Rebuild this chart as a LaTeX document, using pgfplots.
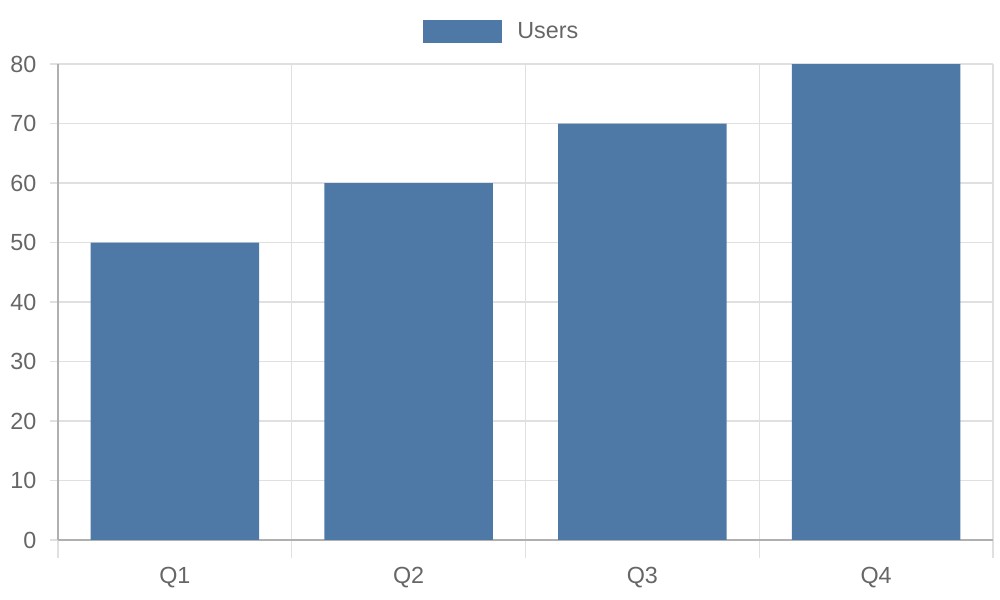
\documentclass[border=0pt]{standalone}
\usepackage{pgfplots}
\pgfplotsset{compat=1.18}
\usepackage{fontspec}
\setmainfont{Liberation Sans}
\definecolor{barblue}{HTML}{4E79A7}
\definecolor{txtgray}{HTML}{666666}
\definecolor{gridgray}{HTML}{E0E0E0}
\definecolor{axisgray}{HTML}{B0B0B0}
\begin{document}
\begin{tikzpicture}
\useasboundingbox (0,0) rectangle (750pt,450pt);
\begin{axis}[
  at={(43.5pt,45pt)}, anchor=south west,
  scale only axis, width=701.25pt, height=357pt,
  xmin=-0.5, xmax=3.5, ymin=0, ymax=80,
  axis lines=left, axis line style={-, axisgray, line width=1pt},
  xtick={0,1,2,3}, xticklabels={Q1,Q2,Q3,Q4},
  minor xtick={-0.5,0.5,1.5,2.5,3.5},
  ytick={0,10,...,80},
  ymajorgrids, xminorgrids,
  grid style={gridgray, line width=1pt},
  minor grid style={gridgray, line width=1pt},
  tick align=outside,
  x tick style={draw=none},
  minor x tick style={draw=gridgray, line width=1pt},
  minor tick length=13.5pt,
  y tick style={draw=gridgray, line width=1pt},
  major tick length=6pt,
  /pgf/number format/assume math mode=true,
  tick label style={font=\fontsize{17.5pt}{20pt}\selectfont, text=txtgray},
  yticklabel style={inner sep=0pt, anchor=east, xshift=-10pt},
  xticklabel style={inner sep=0pt, anchor=north, yshift=-14pt},
  legend style={at={(0.5,1)}, anchor=center, xshift=-17.5pt, yshift=24.5pt, draw=none, fill=none,
    font=\fontsize{17.5pt}{20pt}\selectfont, text=txtgray, inner sep=0pt},
  legend image code/.code={\fill[barblue] (0pt,-8.6pt) rectangle (59pt,8.6pt);},
  legend cell align=left,
  clip=false,
]
\addplot[ybar, bar width=0.72, fill=barblue, draw=none] coordinates {(0,50) (1,60) (2,70) (3,80)};
\addlegendentry{\hspace{9.5pt}Users}
\end{axis}
\end{tikzpicture}
\end{document}
